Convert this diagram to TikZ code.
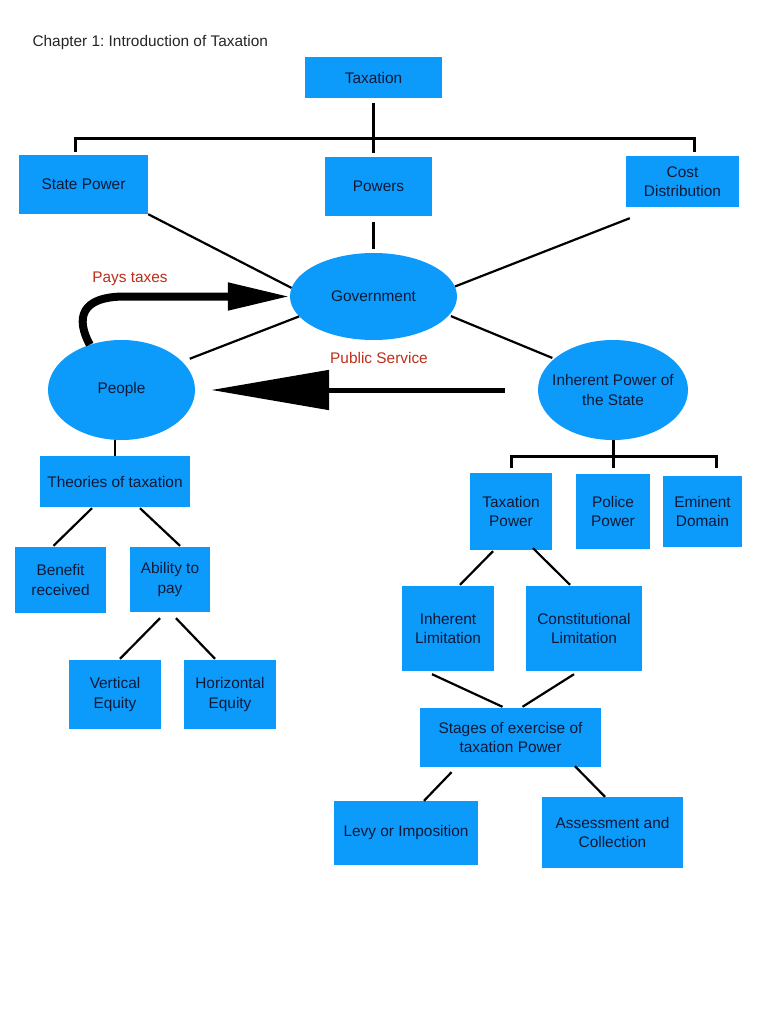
\documentclass[tikz,border=0pt]{standalone}
\usepackage{fontspec}
\setmainfont{Liberation Sans}
\usetikzlibrary{shapes.geometric,arrows.meta,calc}
\frenchspacing

\begin{document}
\begin{tikzpicture}[x=1pt,y=-1pt,
    box/.style={fill=taxblue, minimum width=#1, inner sep=0pt, align=center,
        text=taxtext, font=\fontsize{15.4}{19.5}\selectfont},
    bubble/.style={ellipse, fill=taxblue, inner xsep=-20pt, inner ysep=0pt, align=center,
        text=taxtext, font=\fontsize{15.4}{19.5}\selectfont},
    link/.style={line width=2.2pt},
    bracket/.style={line width=3pt},
    flowlabel/.style={text=taxred, font=\fontsize{15.4}{19.5}\selectfont}]
    % Define colors
    \definecolor{taxblue}{RGB}{12,155,250}
    \definecolor{taxtext}{RGB}{15,25,55}
    \definecolor{taxred}{RGB}{190,45,25}

    \useasboundingbox[fill=white] (0,0) rectangle (768,1024);

    % Title
    \node[anchor=west, text=black!85, font=\fontsize{15.4}{19.5}\selectfont] (title) at (29,43) {Chapter 1: Introduction of Taxation};

    % Top level
    \node[box=137pt, minimum height=41pt] (tax) at (373.5,77.5) {Taxation};
    \node[box=129pt, minimum height=59pt] (sp) at (83.5,184.5) {State Power};
    \node[box=107pt, minimum height=59pt] (pw) at (378.5,186.5) {Powers};
    \node[box=113pt, minimum height=51pt] (cd) at (682.5,181.5) {Cost\\Distribution};

    % Bracket under Taxation
    \draw[bracket] ($(tax.south)+(0,5)$) -- ($(tax.south |- pw.north)+(0,-4)$);
    \draw[bracket] ($(sp.north)+(-8.5,-3)$) |- ($(cd.north)+(11.5,-17)$) -- ($(cd.north)+(11.5,-4)$);

    % Government and people
    \node[bubble, minimum width=167pt, minimum height=87pt] (gov) at (373.5,296.5) {Government};
    \node[bubble, minimum width=147pt, minimum height=100pt] (ppl) at (121.5,390) {People};
    \node[bubble, minimum width=150pt, minimum height=100pt] (inh) at (613,390) {Inherent Power of\\the State};

    \draw[link] (sp.south east) -- (gov.174);
    \draw[link, shorten <=6pt, shorten >=4pt] (gov.north |- pw.south) -- (gov.north);
    \draw[link] ($(cd.south west)+(4,11)$) -- (gov.7);
    \draw[link, shorten >=8pt] (gov.195) -- (ppl.25);
    \draw[link, shorten <=2pt, shorten >=2pt] (gov.-14) -- (inh.152);

    % Flows between people and government
    \coordinate (bend) at (125,296.5);
    \draw[line width=8pt, -{Triangle[length=62pt,width=26pt]}]
        (ppl.125) .. controls +(-14,-26) and +(-45,0) .. (bend) -- (gov.west);
    \node[flowlabel] (paylbl) at (130,279) {Pays taxes};
    \draw[line width=5pt, -{Triangle[length=118pt,width=39pt]}, shorten <=33pt, shorten >=16pt]
        (inh.west) -- (ppl.east);
    \node[flowlabel] (servlbl) at (379,358) {Public Service};

    % Theories of taxation
    \node[box=150pt, minimum height=51pt] (tot) at (115,481.5) {Theories of taxation};
    \node[box=91pt, minimum height=66pt] (br) at (60.5,580) {Benefit\\received};
    \node[box=80pt, minimum height=65pt] (ap) at (170,579.5) {Ability to\\pay};
    \node[box=92pt, minimum height=69pt] (ve) at (115,694.5) {Vertical\\Equity};
    \node[box=92pt, minimum height=69pt] (he) at (230,694.5) {Horizontal\\Equity};

    \draw[link] (tot.north |- ppl.south) -- (tot.north);
    \draw[link] ($(tot.south)+(-23,1)$) -- ($(br.north)+(-7,-1)$);
    \draw[link] ($(tot.south)+(25,1)$) -- ($(ap.north)+(10,-1)$);
    \draw[link] ($(ap.south)+(-10,6)$) -- ($(ve.north)+(5,-1)$);
    \draw[link] ($(ap.south)+(6,6)$) -- ($(he.north)+(-15,-1)$);

    % Inherent powers
    \node[box=82pt, minimum height=77pt] (tp) at (511,511.5) {Taxation\\Power};
    \node[box=74pt, minimum height=75pt] (pp) at (613,511.5) {Police\\Power};
    \node[box=79pt, minimum height=71pt] (ed) at (702.5,511.5) {Eminent\\Domain};

    \draw[bracket] (inh.south) -- ($(inh.south)+(0,28)$);
    \draw[bracket] ($(tp.north)+(0,-5)$) |- ($(ed.north)+(13.5,-19)$) -- ($(ed.north)+(13.5,-8)$);

    % Limitations and stages
    \node[box=92pt, minimum height=85pt] (il) at (448,628.5) {Inherent\\Limitation};
    \node[box=116pt, minimum height=85pt] (cl) at (584,628.5) {Constitutional\\Limitation};
    \node[box=181pt, minimum height=59pt] (st) at (510.5,737.5) {Stages of exercise of\\taxation Power};
    \node[box=144pt, minimum height=64pt] (lv) at (406,833) {Levy or Imposition};
    \node[box=141pt, minimum height=71pt] (ac) at (612.5,832.5) {Assessment and\\Collection};

    \draw[link] ($(tp.south)+(-18,1)$) -- ($(il.north)+(12,-1)$);
    \draw[link] ($(tp.south)+(22,-2)$) -- ($(cl.north)+(-14,-1)$);
    \draw[link] ($(il.south)+(-16,3)$) -- ($(st.north)+(-8,-1)$);
    \draw[link] ($(cl.south)+(-10,3)$) -- ($(st.north)+(12,-1)$);
    \draw[link] ($(st.south)+(-59,5)$) -- ($(lv.north)+(18,0)$);
    \draw[link] ($(st.south)+(64.5,-1)$) -- ($(ac.north)+(-7.5,0)$);

\end{tikzpicture}
\end{document}
